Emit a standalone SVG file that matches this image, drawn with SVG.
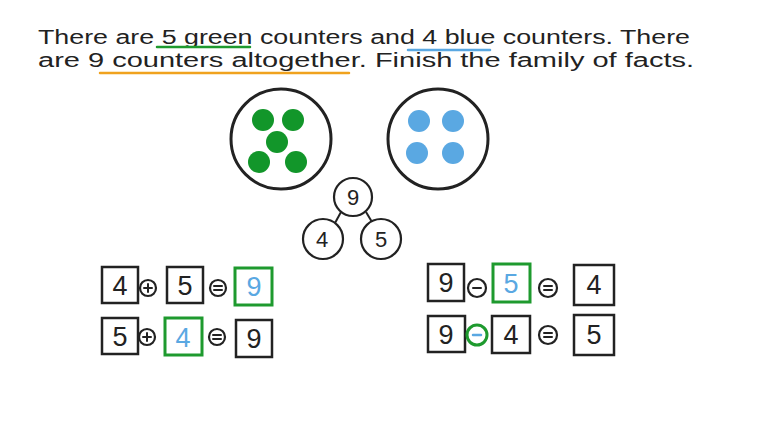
<svg xmlns="http://www.w3.org/2000/svg" width="760" height="427" viewBox="0 0 760 427">
<style>
text{font-family:"Liberation Sans","DejaVu Sans",sans-serif;fill:#222}
.t{font-size:20px}
.n{font-size:27px;text-anchor:middle}
.nb{font-size:22px;text-anchor:middle}
.bx{fill:#fff;stroke:#222;stroke-width:2.5}
.gbx{fill:#fff;stroke:#1e9a2e;stroke-width:3}
.op{fill:#fff;stroke:#222;stroke-width:2.2}
.ops{stroke:#222;stroke-width:2;stroke-linecap:round}
.big{fill:#fff;stroke:#222;stroke-width:3}
.g{fill:#12962a}
.b{fill:#5aa8e2}
.blue{fill:#5aa8e2}
</style>
<rect width="760" height="427" fill="#fff"/>
<g id="prompt">
<text class="t" x="38" y="44" textLength="652" lengthAdjust="spacingAndGlyphs">There are 5 green counters and 4 blue counters. There</text>
<text class="t" x="38" y="67" textLength="656" lengthAdjust="spacingAndGlyphs">are 9 counters altogether. Finish the family of facts.</text>
<line x1="157" y1="47" x2="250" y2="47" stroke="#1e9a2e" stroke-width="2.5" stroke-linecap="round"/>
<line x1="408" y1="50" x2="490" y2="50" stroke="#5aa8e2" stroke-width="2.5" stroke-linecap="round"/>
<line x1="100" y1="73" x2="349" y2="73" stroke="#f0a21e" stroke-width="2.5" stroke-linecap="round"/>
</g>
<g id="green-set">
<circle class="big" cx="281" cy="139" r="50"/>
<circle class="g" cx="263" cy="120" r="11"/>
<circle class="g" cx="293" cy="120" r="11"/>
<circle class="g" cx="277" cy="142" r="11"/>
<circle class="g" cx="259" cy="162" r="11"/>
<circle class="g" cx="296" cy="162" r="11"/>
</g>
<g id="blue-set">
<circle class="big" cx="438" cy="139" r="50"/>
<circle class="b" cx="419" cy="121" r="11"/>
<circle class="b" cx="453" cy="121" r="11"/>
<circle class="b" cx="417" cy="153" r="11"/>
<circle class="b" cx="453" cy="153" r="11"/>
</g>
<g id="connectors">
<line x1="341" y1="212" x2="335" y2="223" stroke="#222" stroke-width="2"/>
<line x1="366" y1="212" x2="372" y2="222" stroke="#222" stroke-width="2"/>
</g>
<g id="bond-9"><circle class="op" cx="353" cy="197" r="19"/><text class="nb" x="353" y="205">9</text></g>
<g id="bond-4"><circle class="op" cx="323" cy="239" r="20"/><text class="nb" x="322" y="247">4</text></g>
<g id="bond-5"><circle class="op" cx="381" cy="239" r="20"/><text class="nb" x="381" y="247">5</text></g>
<g id="eq1">
<rect class="bx" x="102" y="267" width="36" height="36"/><text class="n" x="120" y="295">4</text>
<circle class="op" cx="148" cy="288" r="8"/><line class="ops" x1="144" y1="288" x2="152" y2="288"/><line class="ops" x1="148" y1="284" x2="148" y2="292"/>
<rect class="bx" x="167" y="267" width="36" height="36"/><text class="n" x="185" y="295">5</text>
<circle class="op" cx="218" cy="288" r="8"/><line class="ops" x1="214" y1="286" x2="222" y2="286"/><line class="ops" x1="214" y1="290" x2="222" y2="290"/>
<rect class="gbx" x="235" y="268" width="37" height="37"/><text class="n blue" x="254" y="296">9</text>
</g>
<g id="eq2">
<rect class="bx" x="102" y="318" width="36" height="36"/><text class="n" x="120" y="346">5</text>
<circle class="op" cx="147" cy="337" r="8"/><line class="ops" x1="143" y1="337" x2="151" y2="337"/><line class="ops" x1="147" y1="333" x2="147" y2="341"/>
<rect class="gbx" x="165" y="318" width="37" height="37"/><text class="n blue" x="183" y="347">4</text>
<circle class="op" cx="217" cy="337" r="8"/><line class="ops" x1="213" y1="335" x2="221" y2="335"/><line class="ops" x1="213" y1="339" x2="221" y2="339"/>
<rect class="bx" x="236" y="320" width="36" height="37"/><text class="n" x="254" y="348">9</text>
</g>
<g id="eq3">
<rect class="bx" x="428" y="264" width="36" height="37"/><text class="n" x="446" y="292">9</text>
<circle class="op" cx="477" cy="288" r="9"/><line class="ops" x1="473" y1="288" x2="481" y2="288"/>
<rect class="gbx" x="493" y="264" width="37" height="38"/><text class="n blue" x="511" y="293">5</text>
<circle class="op" cx="548" cy="288" r="9"/><line class="ops" x1="544" y1="286" x2="552" y2="286"/><line class="ops" x1="544" y1="290" x2="552" y2="290"/>
<rect class="bx" x="574" y="265" width="40" height="40"/><text class="n" x="594" y="294">4</text>
</g>
<g id="eq4">
<rect class="bx" x="428" y="316" width="37" height="36"/><text class="n" x="446" y="344">9</text>
<circle cx="477" cy="335" r="10" fill="#fff" stroke="#1e9a2e" stroke-width="3"/><line x1="473" y1="335" x2="481" y2="335" stroke="#5aa8e2" stroke-width="2.5" stroke-linecap="round"/>
<rect class="bx" x="492" y="316" width="38" height="37"/><text class="n" x="511" y="344">4</text>
<circle class="op" cx="548" cy="335" r="9"/><line class="ops" x1="544" y1="333" x2="552" y2="333"/><line class="ops" x1="544" y1="337" x2="552" y2="337"/>
<rect class="bx" x="574" y="315" width="40" height="40"/><text class="n" x="594" y="344">5</text>
</g>
</svg>
